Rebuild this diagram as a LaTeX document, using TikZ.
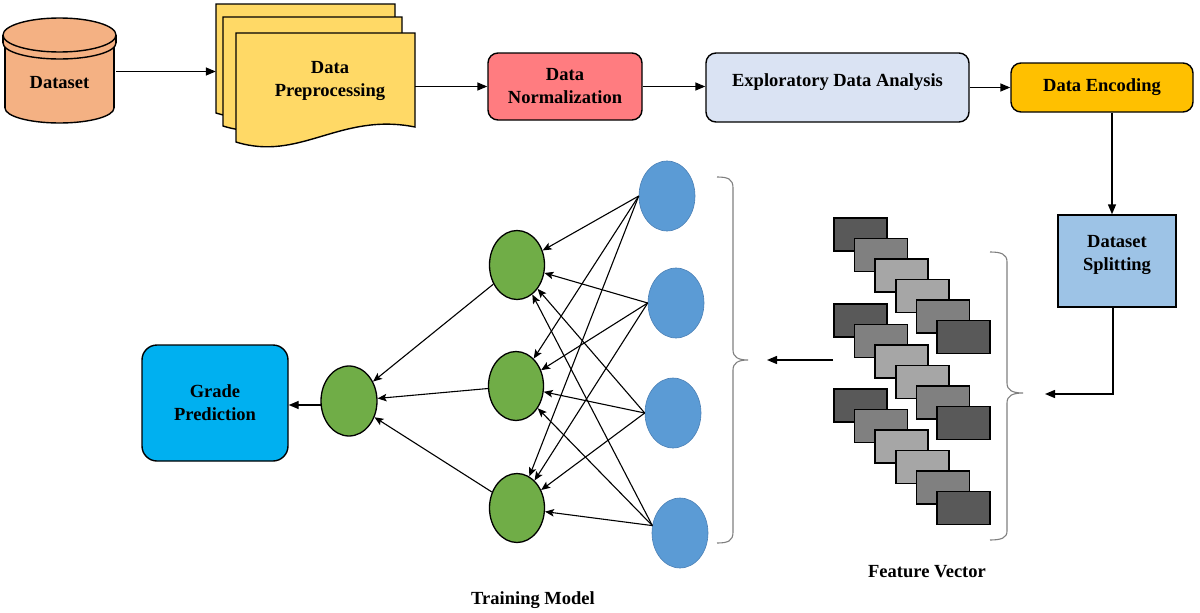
\documentclass[tikz,border=0pt]{standalone}
\usepackage{fontspec}
\setmainfont{Liberation Serif}
\usetikzlibrary{shapes.geometric,arrows.meta}
\definecolor{cylfill}{HTML}{F4B183}
\definecolor{docfill}{HTML}{FFD966}
\definecolor{normfill}{HTML}{FF7C80}
\definecolor{edafill}{HTML}{DAE3F3}
\definecolor{encfill}{HTML}{FFC000}
\definecolor{splitfill}{HTML}{9DC3E6}
\definecolor{gradefill}{HTML}{00B0F0}
\definecolor{greenfill}{HTML}{70AD47}
\definecolor{bluefill}{HTML}{5B9BD5}
\definecolor{blueline}{HTML}{4A7FB5}
\definecolor{gdark}{HTML}{595959}
\definecolor{gmid}{HTML}{808080}
\definecolor{glight}{HTML}{A6A6A6}
\definecolor{bracecol}{HTML}{7F7F7F}
\tikzset{
  box/.style={draw, line width=1.4pt, rounded corners=10pt, inner sep=0pt, align=center},
  txt/.style={inner sep=0pt, align=center},
  arr/.style={line width=1.4pt, -{Triangle[length=10pt,width=8pt]}},
  nnarr/.style={line width=1.1pt, -{Stealth[length=9pt,width=7.5pt,inset=2pt]}},
  bluenode/.style={ellipse, draw=blueline, line width=0.6pt, fill=bluefill, minimum width=56pt, minimum height=70pt, inner sep=0pt},
  greennode/.style={ellipse, draw, line width=1.3pt, fill=greenfill, minimum width=55pt, minimum height=69pt, inner sep=0pt},
  fvrect/.style={draw, line width=1.5pt},
  docstyle/.style={draw, line width=1.4pt, fill=docfill},
  bracestyle/.style={draw=bracecol, line width=1.1pt},
  cylstyle/.style={draw, line width=1.4pt, fill=cylfill}
}
\begin{document}
\begin{tikzpicture}[x=1pt,y=-1pt,font=\fontsize{18.5}{23}\selectfont\bfseries]
\useasboundingbox (0,0) rectangle (1200,613);

% ---- Dataset cylinder ----
\draw[cylstyle] (59.5,108) ellipse [x radius=54.5pt, y radius=15pt];
\fill[cylfill] (5,43) rectangle (114,108);
\draw[line width=1.4pt] (5,43) -- (5,108) (114,43) -- (114,108);
\draw[cylstyle] (59.5,43) ellipse [x radius=56.5pt, y radius=16pt];
\fill[cylfill] (3,35) rectangle (116,43);
\draw[line width=1.4pt] (3,35) -- (3,43) (116,35) -- (116,43);
\draw[cylstyle] (59.5,35) ellipse [x radius=56.5pt, y radius=17pt];
\node[minimum width=113pt, minimum height=73pt, inner sep=0pt] (ds) at (59.5,71.5) {};
\node[txt] (dstext) at (59.5,83) {Dataset};

% ---- Data Preprocessing documents ----
\foreach \dx/\dy in {-20/-29,-13/-16,0/0}{
  \draw[docstyle, shift={(\dx,\dy)}] (236,33) -- (415,33) -- (415,127)
     .. controls (340,112) and (300,162) .. (236,142) -- cycle;
}
\node[minimum width=179pt, minimum height=109pt, inner sep=0pt] (preback) at (305.5,58.5) {};
\node[minimum width=179pt, minimum height=94pt, inner sep=0pt] (pre) at (325.5,80) {};
\node[txt] (pretext) at (330,81) {Data\\Preprocessing};

% ---- Top boxes ----
\node[box, fill=normfill, minimum width=154pt, minimum height=67pt] (norm) at (565,86.5) {Data\\Normalization};
\node[box, fill=edafill, minimum width=263pt, minimum height=69pt] (eda) at (837.5,87.5) {};
\node[txt] (edatext) at (837.5,82) {Exploratory Data Analysis};
\node[box, fill=encfill, minimum width=182pt, minimum height=49pt] (enc) at (1102,87.5) {Data Encoding};
\node[draw, line width=1.4pt, fill=splitfill, minimum width=118pt, minimum height=92pt, inner sep=0pt] (split) at (1117,261) {};
\node[txt] (splittext) at (1117,255) {Dataset\\Splitting};

% ---- Top connectors ----
\draw[arr] (ds.east) -- (ds.east -| preback.west);
\draw[arr] (pre.east |- norm.west) -- (norm.west);
\draw[arr] (norm.east) -- (norm.east -| eda.west);
\draw[arr] (eda.east) -- (eda.east -| enc.west);
\draw[arr] ([xshift=-5pt]split.north |- enc.south) -- ([xshift=-5pt]split.north);

% ---- Feature vector ----
\foreach \g in {218,304,389}{
  \foreach \i/\c in {0/gdark,1/gmid,2/glight,3/glight,4/gmid,5/gdark}{
    \draw[fvrect, fill=\c] ({834+20.6*\i},{\g+20.5*\i}) rectangle ++(53,33);
  }
}
\node[txt] (fvtext) at (927,572) {Feature Vector};

% ---- Braces ----
\draw[bracestyle] (990,252) .. controls (1001,252) and (1007,254) .. (1007,262) -- (1007,383)
   .. controls (1007,390) and (1012,393) .. (1023,393)
   .. controls (1012,393) and (1007,396) .. (1007,403) -- (1007,531)
   .. controls (1007,538) and (1001,540) .. (990,540);
\draw[bracestyle] (717,177) .. controls (728,177) and (733,179) .. (733,188) -- (733,350)
   .. controls (733,357) and (738,360) .. (748,360)
   .. controls (738,360) and (733,363) .. (733,370) -- (733,532)
   .. controls (733,541) and (728,543) .. (717,543);

\coordinate (fvin) at (1045,394);
\coordinate (fvout) at (833,360);
\coordinate (nnin) at (767,360);
\draw[arr] ([xshift=-4pt]split.south) |- (fvin);
\draw[arr] (fvout) -- (nnin);

% ---- Neural network ----
\node[bluenode] (B1) at (667,196) {};
\node[bluenode] (B2) at (676,303) {};
\node[bluenode] (B3) at (673,413) {};
\node[bluenode] (B4) at (680,533) {};
\node[greennode] (G1) at (517,265) {};
\node[greennode] (G2) at (516,386) {};
\node[greennode] (G3) at (517,508) {};
\node[greennode, minimum width=56pt, minimum height=70pt] (O) at (349,401) {};

\foreach \b in {B1,B2,B3}{
  \foreach \h in {G1,G2,G3}{
    \draw[nnarr] (\b.west) -- (\h);
  }
}
\foreach \h in {G1,G2,G3}{
  \draw[nnarr] (B4.165) -- (\h);
  \draw[nnarr] (\h) -- (O);
}

\node[box, rounded corners=15pt, fill=gradefill, minimum width=146pt, minimum height=116pt] (grade) at (215,403) {Grade\\Prediction};
\draw[arr] (O.188) -- (O.188 -| grade.east);

\node[txt] (tmtext) at (533,600) {Training Model};
\end{tikzpicture}
\end{document}
